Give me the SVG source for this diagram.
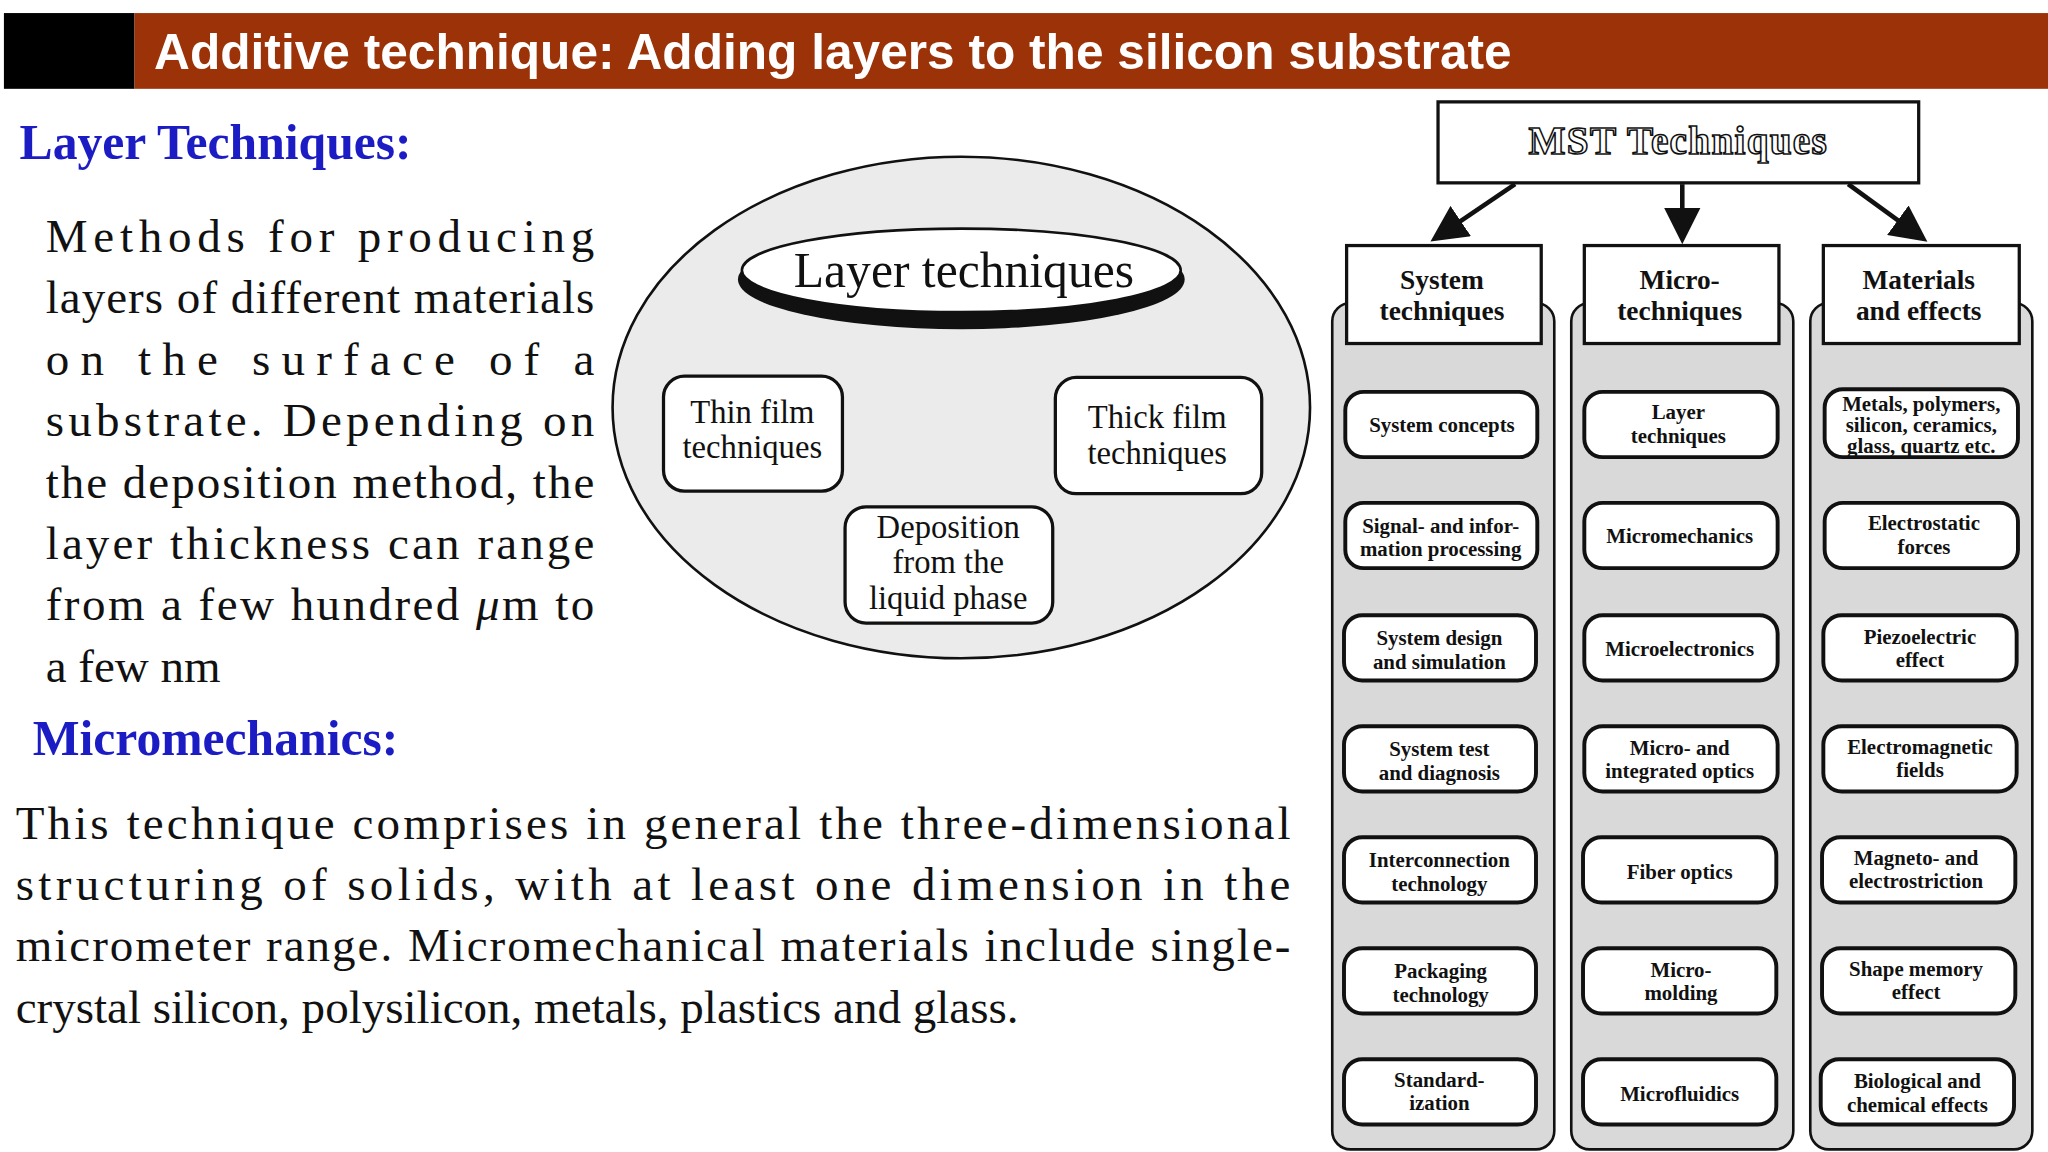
<svg xmlns="http://www.w3.org/2000/svg" width="2048" height="1152" viewBox="0 0 2048 1152">
<style>
.ser{font-family:"Liberation Serif","DejaVu Serif",serif;fill:#111}
.body{font-size:36px}
.head{font-size:38px;font-weight:bold;fill:#1c1cc4}
.ln{stroke:#111;stroke-width:2.5;fill:#fff}
.lt{font-family:"Liberation Serif",serif;font-size:25px;text-anchor:middle;fill:#111}
.col{fill:#d9d9d9;stroke:#111;stroke-width:2}
.hb{fill:#fff;stroke:#111;stroke-width:2.5}
.it{fill:#fff;stroke:#111;stroke-width:3}
.ht{font-family:"Liberation Serif",serif;font-size:21px;font-weight:bold;text-anchor:middle;fill:#111}
.tt{font-family:"Liberation Serif",serif;font-size:16px;font-weight:bold;text-anchor:middle;fill:#111}
</style>
<defs><marker id="ah" markerWidth="8" markerHeight="8" refX="6" refY="4" orient="auto" markerUnits="strokeWidth"><path d="M0,0 L8,4 L0,8 z" fill="#111"/></marker></defs>
<rect width="2048" height="1152" fill="#fff"/>
<g transform="scale(1.30612)">
<g id="header">
<rect x="3" y="10" width="100" height="58" fill="#000"/>
<rect x="103" y="10" width="1465" height="58" fill="#9c3208"/>
<text x="118" y="53" font-family="Liberation Sans,Arial,sans-serif" font-size="38" font-weight="bold" fill="#fff">Additive technique: Adding layers to the silicon substrate</text>
</g>
<g id="text-left" class="ser">
<text x="15" y="122" class="ser head">Layer Techniques:</text>
<g class="body">
<text x="35" y="193" textLength="420" lengthAdjust="spacing">Methods for producing</text>
<text x="35" y="240" textLength="420" lengthAdjust="spacing">layers of different materials</text>
<text x="35" y="287" textLength="420" lengthAdjust="spacing">on the surface of a</text>
<text x="35" y="334" textLength="420" lengthAdjust="spacing">substrate. Depending on</text>
<text x="35" y="381" textLength="420" lengthAdjust="spacing">the deposition method, the</text>
<text x="35" y="428" textLength="420" lengthAdjust="spacing">layer thickness can range</text>
<text x="35" y="475" textLength="420" lengthAdjust="spacing">from a few hundred <tspan font-style="italic">μ</tspan>m to</text>
<text x="35" y="522">a few nm</text>
</g>
<text x="25" y="578" class="ser head">Micromechanics:</text>
<g class="body">
<text x="12" y="642" textLength="976" lengthAdjust="spacing">This technique comprises in general the three-dimensional</text>
<text x="12" y="689" textLength="976" lengthAdjust="spacing">structuring of solids, with at least one dimension in the</text>
<text x="12" y="736" textLength="976" lengthAdjust="spacing">micrometer range. Micromechanical materials include single-</text>
<text x="12" y="783">crystal silicon, polysilicon, metals, plastics and glass.</text>
</g>
</g>
<g id="layer-diagram">
<ellipse cx="736" cy="312" rx="267" ry="192" fill="#ebebeb" stroke="#111" stroke-width="2"/>
<ellipse cx="736" cy="214" rx="171" ry="38" fill="#111"/>
<ellipse cx="736" cy="207" rx="168" ry="32" fill="#fff" stroke="#111" stroke-width="2"/>
<text x="738" y="220" font-family="Liberation Serif,serif" font-size="38" text-anchor="middle" fill="#111">Layer techniques</text>
<g id="thin"><rect x="508" y="288" width="137" height="88" rx="16" class="ln"/><text class="lt" x="576" y="324">Thin film</text><text class="lt" x="576" y="351">techniques</text></g>
<g id="thick"><rect x="808" y="289" width="158" height="89" rx="16" class="ln"/><text class="lt" x="886" y="328">Thick film</text><text class="lt" x="886" y="355">techniques</text></g>
<g id="depo"><rect x="647" y="388" width="159" height="89" rx="16" class="ln"/><text class="lt" x="726" y="412">Deposition</text><text class="lt" x="726" y="439">from the</text><text class="lt" x="726" y="466">liquid phase</text></g>
</g>
<g id="mst">
<rect x="1020" y="232" width="170" height="648" rx="14" class="col"/>
<rect x="1203" y="232" width="170" height="648" rx="14" class="col"/>
<rect x="1386" y="232" width="170" height="648" rx="14" class="col"/>
<g id="root"><rect x="1101" y="78" width="368" height="62" class="hb" stroke-width="3"/>
<text x="1285" y="118" font-family="Liberation Serif,serif" font-size="30" font-weight="bold" text-anchor="middle" fill="#fff" stroke="#111" stroke-width="1.2" letter-spacing="1">MST Techniques</text></g>
<g id="connectors" stroke="#111" stroke-width="3.5" fill="none" marker-end="url(#ah)">
<line x1="1160" y1="141" x2="1101" y2="181"/>
<line x1="1288" y1="141" x2="1288" y2="180"/>
<line x1="1415" y1="141" x2="1470" y2="181"/>
</g>
<g id="h1"><rect x="1031" y="188" width="149" height="75" class="hb"/><text class="ht" x="1104" y="221">System</text><text class="ht" x="1104" y="245">techniques</text></g>
<g id="h2"><rect x="1213" y="188" width="149" height="75" class="hb"/><text class="ht" x="1286" y="221">Micro-</text><text class="ht" x="1286" y="245">techniques</text></g>
<g id="h3"><rect x="1396" y="188" width="150" height="75" class="hb"/><text class="ht" x="1469" y="221">Materials</text><text class="ht" x="1469" y="245">and effects</text></g>
<g id="c1">
<rect x="1030" y="300" width="147" height="50" rx="14" class="it"/><text class="tt" x="1104" y="331">System concepts</text>
<rect x="1030" y="385" width="147" height="50" rx="14" class="it"/><text class="tt" x="1103" y="408">Signal- and infor-</text><text class="tt" x="1103" y="426">mation processing</text>
<rect x="1029" y="471" width="147" height="50" rx="14" class="it"/><text class="tt" x="1102" y="494">System design</text><text class="tt" x="1102" y="512">and simulation</text>
<rect x="1029" y="556" width="147" height="50" rx="14" class="it"/><text class="tt" x="1102" y="579">System test</text><text class="tt" x="1102" y="597">and diagnosis</text>
<rect x="1029" y="641" width="147" height="50" rx="14" class="it"/><text class="tt" x="1102" y="664">Interconnection</text><text class="tt" x="1102" y="682">technology</text>
<rect x="1029" y="726" width="147" height="50" rx="14" class="it"/><text class="tt" x="1103" y="749">Packaging</text><text class="tt" x="1103" y="767">technology</text>
<rect x="1029" y="811" width="147" height="50" rx="14" class="it"/><text class="tt" x="1102" y="832">Standard-</text><text class="tt" x="1102" y="850">ization</text>
</g>
<g id="c2">
<rect x="1213" y="300" width="148" height="50" rx="14" class="it"/><text class="tt" x="1285" y="321">Layer</text><text class="tt" x="1285" y="339">techniques</text>
<rect x="1213" y="385" width="148" height="50" rx="14" class="it"/><text class="tt" x="1286" y="416">Micromechanics</text>
<rect x="1213" y="471" width="148" height="50" rx="14" class="it"/><text class="tt" x="1286" y="502">Microelectronics</text>
<rect x="1213" y="556" width="148" height="50" rx="14" class="it"/><text class="tt" x="1286" y="578">Micro- and</text><text class="tt" x="1286" y="596">integrated optics</text>
<rect x="1212" y="641" width="148" height="50" rx="14" class="it"/><text class="tt" x="1286" y="673">Fiber optics</text>
<rect x="1212" y="726" width="148" height="50" rx="14" class="it"/><text class="tt" x="1287" y="748">Micro-</text><text class="tt" x="1287" y="766">molding</text>
<rect x="1212" y="811" width="148" height="50" rx="14" class="it"/><text class="tt" x="1286" y="843">Microfluidics</text>
</g>
<g id="c3">
<rect x="1397" y="298" width="148" height="52" rx="14" class="it"/><text class="tt" x="1471" y="315" font-size="15">Metals, polymers,</text><text class="tt" x="1471" y="331" font-size="15">silicon, ceramics,</text><text class="tt" x="1471" y="347" font-size="15">glass, quartz etc.</text>
<rect x="1397" y="385" width="148" height="50" rx="14" class="it"/><text class="tt" x="1473" y="406">Electrostatic</text><text class="tt" x="1473" y="424">forces</text>
<rect x="1396" y="471" width="148" height="50" rx="14" class="it"/><text class="tt" x="1470" y="493">Piezoelectric</text><text class="tt" x="1470" y="511">effect</text>
<rect x="1396" y="556" width="148" height="50" rx="14" class="it"/><text class="tt" x="1470" y="577">Electromagnetic</text><text class="tt" x="1470" y="595">fields</text>
<rect x="1395" y="641" width="148" height="50" rx="14" class="it"/><text class="tt" x="1467" y="662">Magneto- and</text><text class="tt" x="1467" y="680">electrostriction</text>
<rect x="1395" y="726" width="148" height="50" rx="14" class="it"/><text class="tt" x="1467" y="747">Shape memory</text><text class="tt" x="1467" y="765">effect</text>
<rect x="1394" y="811" width="148" height="50" rx="14" class="it"/><text class="tt" x="1468" y="833">Biological and</text><text class="tt" x="1468" y="851">chemical effects</text>
</g>
</g>
</g>
</svg>
